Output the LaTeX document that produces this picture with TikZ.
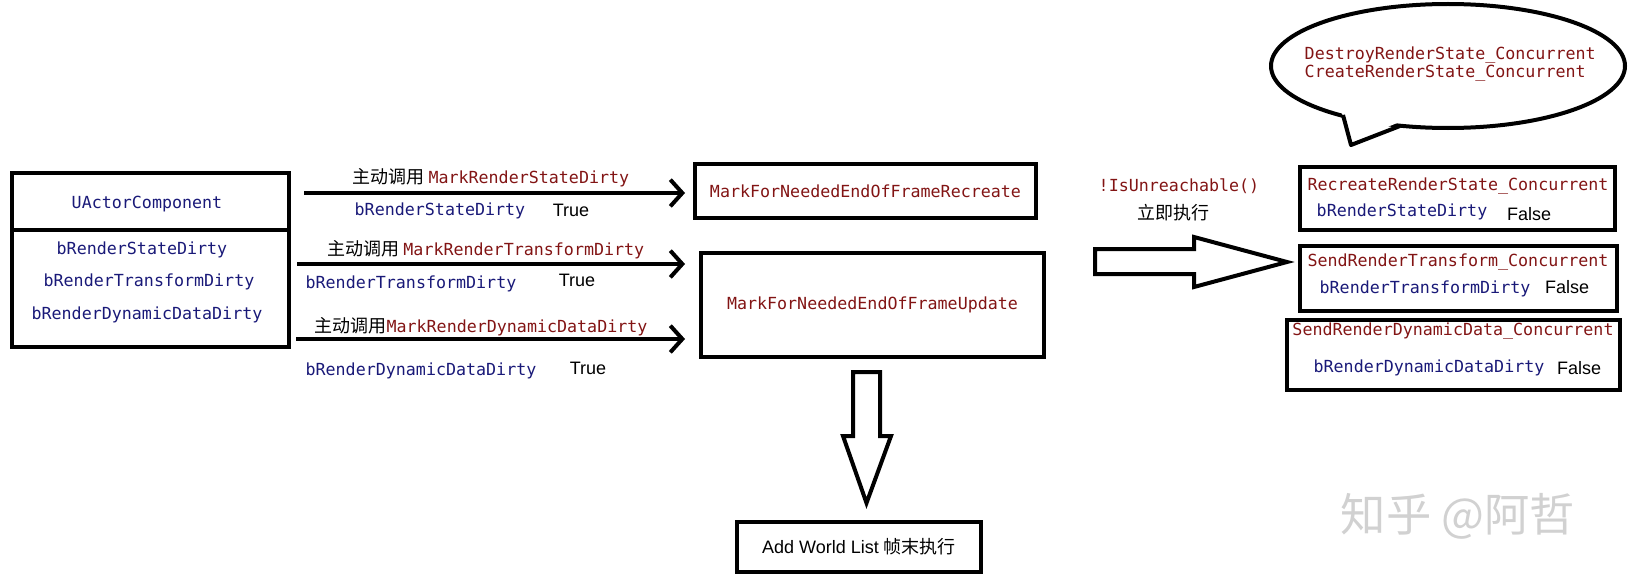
\documentclass[tikz,border=0pt]{standalone}
\usepackage{fontspec}
\setmainfont{Liberation Sans}
\setmonofont{DejaVu Sans Mono}
\newfontfamily\cjk{Noto Sans CJK SC}
\usetikzlibrary{arrows.meta}
\begin{document}
\begin{tikzpicture}[x=0.75pt,y=-0.75pt,
  box/.style={draw,line width=3pt},
  mono/.style={font=\fontsize{12.5}{14}\ttfamily},
  fn/.style={mono,text={rgb,255:red,130;green,20;blue,20}},
  var/.style={mono,text={rgb,255:red,25;green,25;blue,120}},
  tf/.style={font=\fontsize{13.5}{15}\selectfont},
  cn/.style={font=\fontsize{13.5}{16}\cjk},
  arr/.style={line width=3pt,-{Straight Barb[length=9pt,width=20pt,line width=3pt]}},
  blk/.style={draw,line width=3pt,fill=white}]
\useasboundingbox (0,0) rectangle (1628,585);
% left component
\draw[box] (12,173) rectangle (289,347);
\draw[box] (12,230) -- (289,230);
\node[var] (uac) at (147,204) {UActorComponent};
\node[var] (v1) at (142,250) {bRenderStateDirty};
\node[var] (v2) at (149,282) {bRenderTransformDirty};
\node[var] (v3) at (147,315) {bRenderDynamicDataDirty};
% middle boxes
\node[box,minimum width=341*0.75pt,minimum height=54*0.75pt] (rec) at (865.5,191) {};
\node[fn] at (rec) {MarkForNeededEndOfFrameRecreate};
\node[box,minimum width=343*0.75pt,minimum height=104*0.75pt] (upd) at (872.5,305) {};
\node[fn] at (upd) {MarkForNeededEndOfFrameUpdate};
\node[box,minimum width=244*0.75pt,minimum height=50*0.75pt,font=\fontsize{13.5}{16}\selectfont] (awl) at (859,547) {Add World List {\cjk 帧末执行}};
% arrows
\coordinate (a1s) at (304,193); \coordinate (a1e) at (685,193);
\coordinate (a2s) at (297,264); \coordinate (a2e) at (685,264);
\coordinate (a3s) at (296,339); \coordinate (a3e) at (685,339);
\draw[arr] (a1s) -- (a1e);
\draw[arr] (a2s) -- (a2e);
\draw[arr] (a3s) -- (a3e);
\node[anchor=base] (l1) at (491,183) {{\cjk\fontsize{13.5}{16}\selectfont 主动调用} {\fontsize{12.5}{14}\ttfamily\color[RGB]{130,20,20}MarkRenderStateDirty}};
\node[var] (l1b) at (440,211) {bRenderStateDirty};
\node[tf] (l1t) at (571,210) {True};
\node[anchor=base] (l2) at (486,255) {{\cjk\fontsize{13.5}{16}\selectfont 主动调用} {\fontsize{12.5}{14}\ttfamily\color[RGB]{130,20,20}MarkRenderTransformDirty}};
\node[var] (l2b) at (411,284) {bRenderTransformDirty};
\node[tf] (l2t) at (577,280) {True};
\node[anchor=base] (l3) at (481,332) {{\cjk\fontsize{13.5}{16}\selectfont 主动调用}{\fontsize{12.5}{14}\ttfamily\color[RGB]{130,20,20}MarkRenderDynamicDataDirty}};
\node[var] (l3b) at (421,371) {bRenderDynamicDataDirty};
\node[tf] (l3t) at (588,368) {True};
% down block arrow
\draw[blk] (853,372) -- (880,372) -- (880,436) -- (891,436) -- (866.5,503) -- (843,436) -- (853,436) -- cycle;
% right block arrow
\draw[blk] (1095,249) -- (1194,249) -- (1194,237) -- (1287,262) -- (1194,287) -- (1194,274) -- (1095,274) -- cycle;
\node[fn] (unr) at (1179,186) {!IsUnreachable()};
\node[cn] (ljz) at (1173,213) {立即执行};
% callout
\draw[line width=3pt] (1448,66) ellipse[x radius=177,y radius=62];
\fill[white] (1341,110) -- (1351,142) -- (1402,121) -- cycle;
\draw[line width=3pt,line join=round] (1343,115) -- (1351,145) -- (1400,126);
\node[fn,align=left,anchor=west] (cb) at (1300,64) {DestroyRenderState\_Concurrent\\CreateRenderState\_Concurrent};
% right boxes
\draw[box] (1300,167) rectangle (1615,230);
\node[fn] (r1) at (1458,186) {RecreateRenderState\_Concurrent};
\node[var] (r1v) at (1402,212) {bRenderStateDirty};
\node[tf] (r1f) at (1529,214) {False};
\draw[box] (1300,246) rectangle (1617,311);
\node[fn] (r2) at (1458,262) {SendRenderTransform\_Concurrent};
\node[var] (r2v) at (1425,289) {bRenderTransformDirty};
\node[tf] (r2f) at (1567,287) {False};
\draw[box] (1287,320) rectangle (1620,390);
\node[fn] (r3) at (1453,331) {SendRenderDynamicData\_Concurrent};
\node[var] (r3v) at (1429,368) {bRenderDynamicDataDirty};
\node[tf] (r3f) at (1579,368) {False};
% watermark
\node[font=\fontsize{34}{40}\cjk,text=black!18] (wm) at (1458,516) {知乎 @阿哲};
\end{tikzpicture}
\end{document}
